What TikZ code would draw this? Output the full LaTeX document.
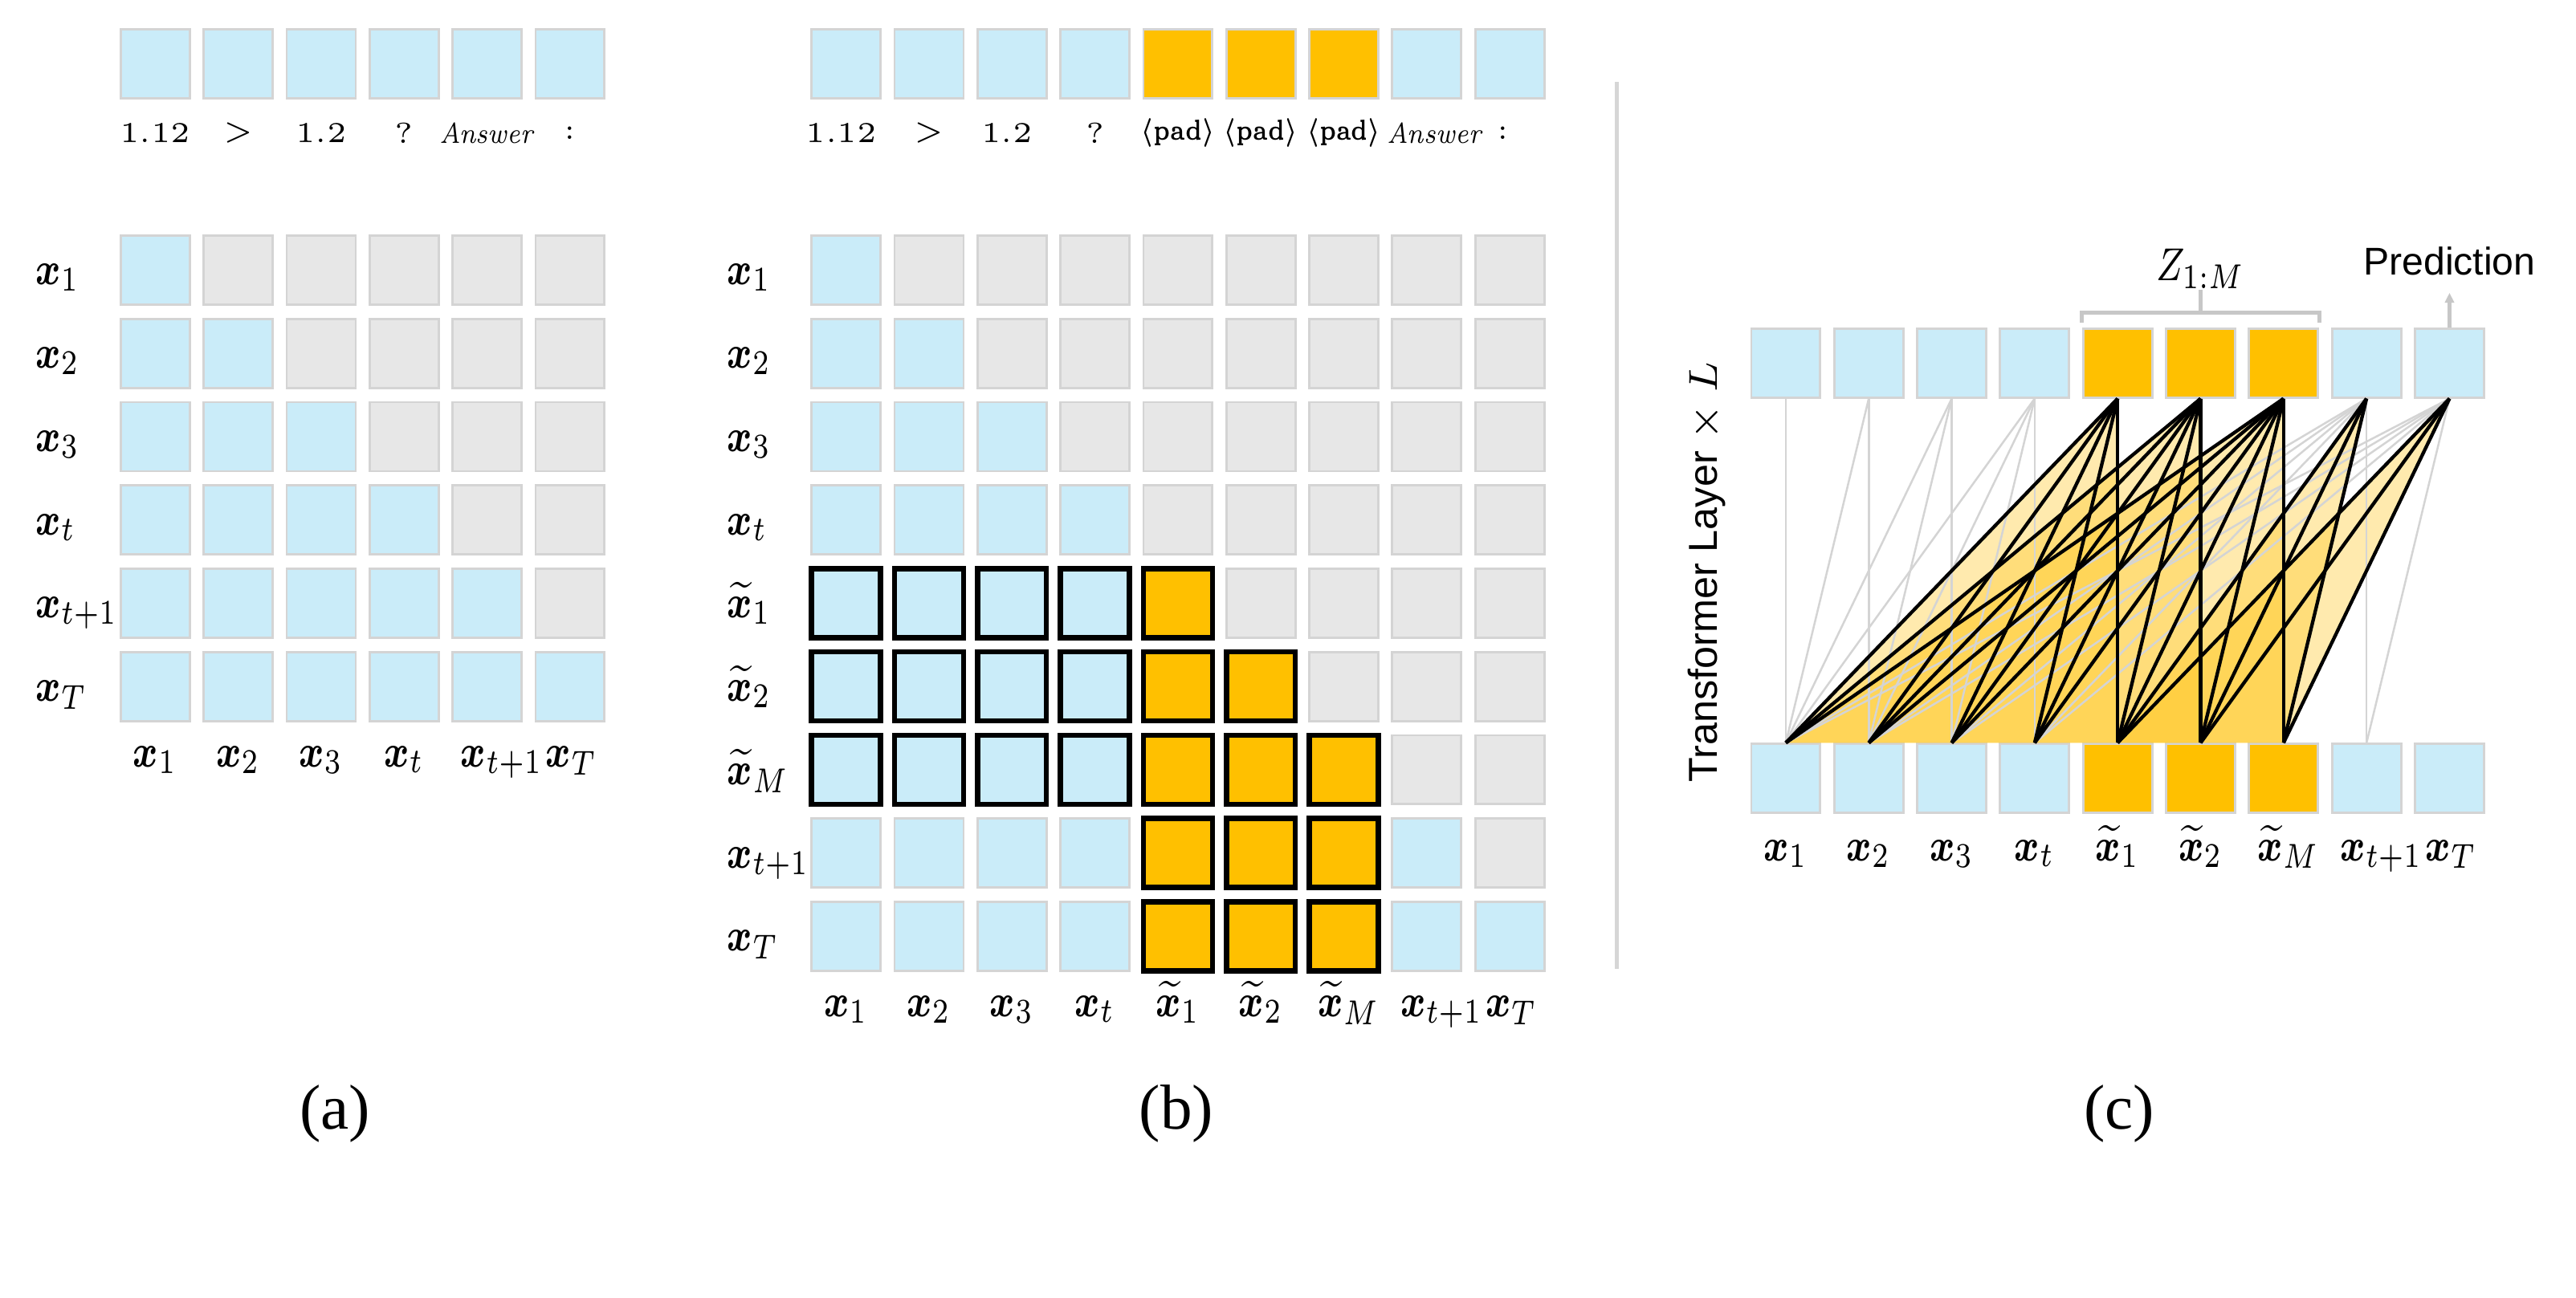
\documentclass[tikz,border=0pt]{standalone}
\usepackage{amsmath}
\usepackage{amssymb}
\usepackage{bm}
\usepackage{fontspec}
\setsansfont{Liberation Sans}
\newfontfamily\capfont{Liberation Serif}
\usetikzlibrary{arrows.meta}

\definecolor{tokblue}{RGB}{202,236,249}
\definecolor{maskgray}{RGB}{231,231,231}
\definecolor{edgegray}{RGB}{212,212,212}
\definecolor{padorange}{RGB}{255,192,0}
\definecolor{fanorange}{RGB}{255,198,30}

\newcommand{\squeeze}[1]{\scalebox{0.78}[1]{#1}}
\newcommand{\padtok}{\scalebox{0.7}[1]{\textbf{$\boldsymbol{\langle}$pad$\boldsymbol{\rangle}$}}}
\newcommand{\answertok}{\scalebox{0.86}[1]{\textit{Answer}}}

\tikzset{
  cell/.style={draw=edgegray, line width=0.4pt, minimum width=4.2mm, minimum height=4.2mm, inner sep=0pt},
  seen/.style={cell, fill=tokblue},
  masked/.style={cell, fill=maskgray},
  padcell/.style={cell, fill=padorange},
  hot/.style={draw=black, line width=0.9pt},
  softedge/.style={},
  toklabel/.style={font=\fontsize{5}{6}\selectfont, inner sep=0pt},
  seqlabel/.style={font=\fontsize{8.5}{10}\selectfont, inner sep=0pt, anchor=base},
  rowlabel/.style={seqlabel, anchor=base west},
  attn/.style={draw=edgegray, line width=0.35pt},
  hotattn/.style={draw=black, line width=0.6pt},
  fan/.style={fill=fanorange, fill opacity=0.36},
  brace/.style={draw=black!22, line width=0.7pt},
  panellabel/.style={font=\capfont\fontsize{11}{13}\selectfont},
}

\begin{document}
\begin{tikzpicture}[x=0.1mm, y=-0.1mm]
  \useasboundingbox (0,0) rectangle (1568,790);

  % (a) input tokens
  \foreach \tok/\dx [count=\i] in {1.12/0, >/0, 1.2/0, ?/0, \answertok/0, :/0} {
    \node[seen] (a-in-\i) at ({94.5+50.5*(\i-1)}, 39) {};
    \node[toklabel] (a-tok-\i) at ({94.5+50.5*(\i-1)+\dx}, 81) {\tok};
  }
  % (a) causal mask
  \foreach \row in {1,...,6}
    \foreach \col in {1,...,6} {
      \ifnum\col>\row\relax \def\kind{masked}\else \def\kind{seen}\fi
      \node[\kind] (a-\row-\col) at ({94.5+50.5*(\col-1)}, {164.5+50.7*(\row-1)}) {};
    }
  \foreach \tok [count=\i] in {\bm{x}_1, \bm{x}_2, \bm{x}_3, \bm{x}_t, \bm{x}_{t+1}, \bm{x}_T}
    \node[rowlabel] (a-row-\i) at (21, {173.5+50.7*(\i-1)}) {\squeeze{$\tok$}};
  \foreach \tok/\dx [count=\i] in {\bm{x}_1/0, \bm{x}_2/0, \bm{x}_3/0, \bm{x}_t/0, \bm{x}_{t+1}/9, \bm{x}_T/1}
    \node[seqlabel] (a-col-\i) at ({94.5+50.5*(\i-1)+\dx}, 467) {\squeeze{$\tok$}};
  \node[panellabel] (a-cap) at (204,678) {(a)};

  % (b) input tokens with pads
  \foreach \tok/\dx [count=\i] in {1.12/-3, >/0, 1.2/-3, ?/0, \padtok/0, \padtok/0, \padtok/0, \answertok/5, :/-4} {
    \def\kind{seen}
    \ifnum\i>4 \ifnum\i<8 \def\kind{padcell}\fi\fi
    \node[\kind] (b-in-\i) at ({515+50.5*(\i-1)}, 39) {};
    \node[toklabel] (b-tok-\i) at ({515+50.5*(\i-1)+\dx}, 81) {\tok};
  }
  % (b) mask
  \foreach \row in {1,...,9}
    \foreach \col in {1,...,9} {
      \def\kind{masked}
      \def\edge{softedge}
      \ifnum\col>\row\relax\else
        \def\kind{seen}
        \ifnum\col>4 \ifnum\col<8 \def\kind{padcell}\fi\fi
        \ifnum\row>4 \ifnum\row<8 \def\edge{hot}\fi\fi
        \ifnum\row>7 \ifnum\col>4 \ifnum\col<8 \def\edge{hot}\fi\fi\fi
      \fi
      \node[\kind, \edge] (b-\row-\col) at ({515+50.5*(\col-1)}, {164.5+50.7*(\row-1)}) {};
    }
  \foreach \tok [count=\i] in {\bm{x}_1, \bm{x}_2, \bm{x}_3, \bm{x}_t, \widetilde{\bm{x}}_1, \widetilde{\bm{x}}_2, \widetilde{\bm{x}}_M, \bm{x}_{t+1}, \bm{x}_T}
    \node[rowlabel] (b-row-\i) at (442, {173.5+50.7*(\i-1)}) {\squeeze{$\tok$}};
  \foreach \tok/\dx [count=\i] in {\bm{x}_1/0, \bm{x}_2/0, \bm{x}_3/0, \bm{x}_t/0, \widetilde{\bm{x}}_1/0, \widetilde{\bm{x}}_2/0, \widetilde{\bm{x}}_M/3, \bm{x}_{t+1}/9, \bm{x}_T/1}
    \node[seqlabel] (b-col-\i) at ({515+50.5*(\i-1)+\dx}, 619) {\squeeze{$\tok$}};
  \node[panellabel] (b-cap) at (716,678) {(b)};

  % separator
  \draw[draw=black!16, line width=0.7pt] (984,50) -- (984,590);

  % (c) layer boxes
  \foreach \i in {1,...,9} {
    \def\kind{seen}
    \ifnum\i>4 \ifnum\i<8 \def\kind{padcell}\fi\fi
    \node[\kind] (c-top-\i) at ({1087+50.5*(\i-1)}, 221) {};
    \node[\kind] (c-bot-\i) at ({1087+50.5*(\i-1)}, 474) {};
  }
  % fans
  \foreach \k in {5,6,7}
    \fill[fan] (c-top-\k.south) -- (c-bot-1.north) -- (c-bot-\k.north) -- cycle;
  \foreach \k in {8,9}
    \fill[fan] (c-top-\k.south) -- (c-bot-5.north) -- (c-bot-7.north) -- cycle;
  % attention edges
  \foreach \k in {1,...,4}
    \foreach \j in {1,...,\k}
      \draw[attn] (c-top-\k.south) -- (c-bot-\j.north);
  \foreach \k in {8,9}
    \foreach \j in {1,2,3,4,8,...,\k}
      \draw[attn] (c-top-\k.south) -- (c-bot-\j.north);
  \foreach \k in {5,6,7}
    \foreach \j in {1,...,\k}
      \draw[hotattn] (c-top-\k.south) -- (c-bot-\j.north);
  \foreach \k in {8,9}
    \foreach \j in {5,6,7}
      \draw[hotattn] (c-top-\k.south) -- (c-bot-\j.north);

  \foreach \tok/\dx [count=\i] in {\bm{x}_1/0, \bm{x}_2/0, \bm{x}_3/0, \bm{x}_t/0, \widetilde{\bm{x}}_1/0, \widetilde{\bm{x}}_2/0, \widetilde{\bm{x}}_M/3, \bm{x}_{t+1}/9, \bm{x}_T/1}
    \node[seqlabel] (c-col-\i) at ({1087+50.5*(\i-1)+\dx}, 524) {\squeeze{$\tok$}};

  % Z bracket and prediction
  \node[anchor=south, inner sep=0pt, font=\fontsize{8.5}{10}\selectfont] (zlab) at ([yshift=2.3mm]c-top-6.north) {\squeeze{$Z_{1:M}$}};
  \draw[brace] ([yshift=0.3mm]c-top-5.north west) -- ([yshift=0.9mm]c-top-5.north west)
    -- ([yshift=0.9mm]c-top-7.north east) -- ([yshift=0.3mm]c-top-7.north east);
  \draw[brace] ([yshift=0.9mm]c-top-6.north) -- (zlab.south);
  \node[anchor=south, inner sep=0pt, font=\sffamily\fontsize{6.7}{8}\selectfont] (pred) at ([yshift=3.1mm]c-top-9.north) {Prediction};
  \draw[brace, line width=0.6pt, -{Triangle[length=0.6mm, width=0.55mm]}, shorten >=1mm] (c-top-9.north) -- (pred.south);

  \node[rotate=90, inner sep=0pt, font=\sffamily\fontsize{7}{8.4}\selectfont] (c-layers) at (1039,348) {Transformer Layer~$\times$~$L$};
  \node[panellabel] (c-cap) at (1290,678) {(c)};
\end{tikzpicture}
\end{document}
